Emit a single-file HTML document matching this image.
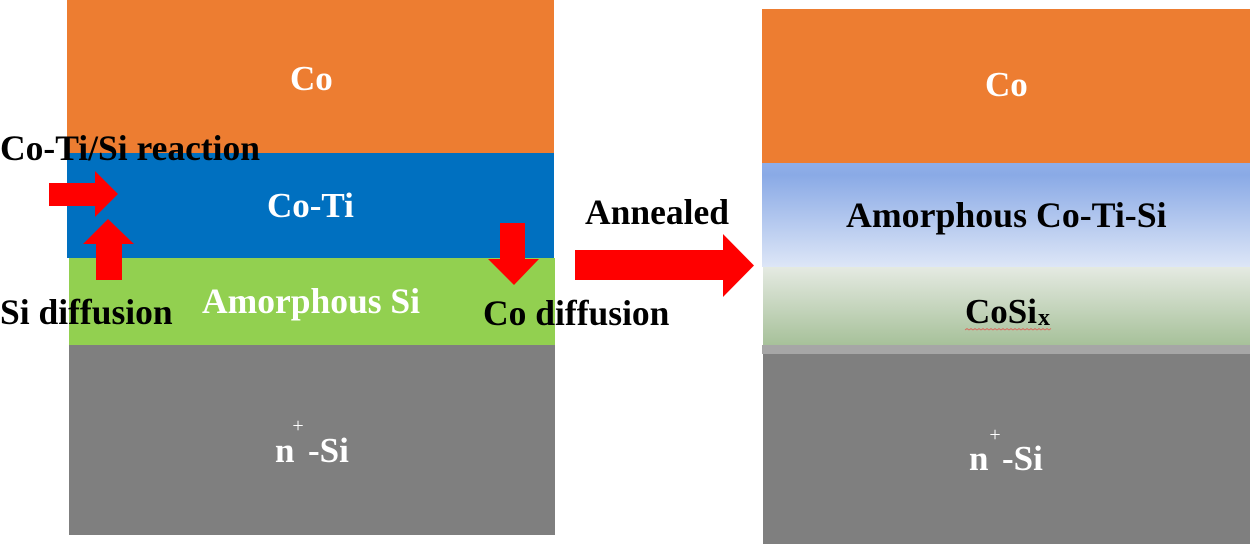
<!DOCTYPE html>
<html>
<head>
<meta charset="utf-8">
<style>
  html,body{margin:0;padding:0;background:#fff;}
  svg{display:block;}
  text{font-family:"Liberation Serif","Times New Roman",serif;font-weight:bold;}
</style>
</head>
<body>
<svg width="1251" height="545" viewBox="0 0 1251 545" xmlns="http://www.w3.org/2000/svg">
  <defs>
    <linearGradient id="gb" x1="0" y1="0" x2="0" y2="1">
      <stop offset="0" stop-color="#8FAEE8"/>
      <stop offset="0.12" stop-color="#8AAAE6"/>
      <stop offset="1" stop-color="#DDE6F7"/>
    </linearGradient>
    <linearGradient id="gg" x1="0" y1="0" x2="0" y2="1">
      <stop offset="0" stop-color="#E5EAE2"/>
      <stop offset="1" stop-color="#A7C19A"/>
    </linearGradient>
  </defs>

  <!-- Left stack -->
  <rect x="67" y="0" width="487" height="153" fill="#ED7D31"/>
  <rect x="67" y="153" width="487" height="105" fill="#0070C0"/>
  <rect x="69" y="258" width="486" height="87" fill="#92D050"/>
  <rect x="69" y="345" width="486" height="190" fill="#7F7F7F"/>

  <!-- Right stack -->
  <rect x="762" y="9" width="488" height="154" fill="#ED7D31"/>
  <rect x="762" y="163" width="488" height="104" fill="url(#gb)"/>
  <rect x="763" y="267" width="487" height="78" fill="url(#gg)"/>
  <rect x="762" y="345" width="488" height="9" fill="#A6A6A6"/>
  <rect x="763" y="354" width="487" height="190" fill="#7F7F7F"/>

  <!-- Arrows -->
  <polygon fill="#FF0000" points="49,183 95,183 95,171 118,194 95,217 95,206 49,206"/>
  <polygon fill="#FF0000" points="96,280 96,244 83,244 108,219 134,244 122,244 122,280"/>
  <polygon fill="#FF0000" points="500,223 525,223 525,259 539,259 514,285 488,259 500,259"/>
  <polygon fill="#FF0000" points="575,250 723,250 723,234 754,265.5 723,297 723,280 575,280"/>

  <!-- Left texts -->
  <text x="290" y="90" font-size="35" fill="#fff">Co</text>
  <text x="0" y="160" font-size="35.5" fill="#000">Co-Ti/Si reaction</text>
  <text x="267" y="217" font-size="35" fill="#fff">Co-Ti</text>
  <text x="202" y="313" font-size="35.5" fill="#fff">Amorphous Si</text>
  <text x="0" y="324" font-size="35.5" fill="#000">Si diffusion</text>
  <text x="483" y="325" font-size="35.5" fill="#000">Co diffusion</text>
  <text x="585" y="224" font-size="35.5" fill="#000">Annealed</text>
  <text x="275" y="462" font-size="35" fill="#fff">n</text>
  <text x="298" y="432" font-size="20" fill="#fff" text-anchor="middle" style="font-weight:normal">+</text>
  <text x="308" y="462" font-size="35" fill="#fff">-Si</text>

  <!-- Right texts -->
  <text x="985" y="96" font-size="35" fill="#fff">Co</text>
  <text x="846" y="227" font-size="35.8" fill="#000">Amorphous Co-Ti-Si</text>
  <text x="965" y="323" font-size="35" fill="#000">CoSi</text>
  <text x="1038" y="325" font-size="24" fill="#000">x</text>
  <path d="M965,330 l2,-1.5 l2,1.5 l2,-1.5 l2,1.5 l2,-1.5 l2,1.5 l2,-1.5 l2,1.5 l2,-1.5 l2,1.5 l2,-1.5 l2,1.5 l2,-1.5 l2,1.5 l2,-1.5 l2,1.5 l2,-1.5 l2,1.5 l2,-1.5 l2,1.5 l2,-1.5 l2,1.5 l2,-1.5 l2,1.5 l2,-1.5 l2,1.5 l2,-1.5 l2,1.5 l2,-1.5 l2,1.5 l2,-1.5 l2,1.5 l2,-1.5 l2,1.5 l2,-1.5 l2,1.5 l2,-1.5 l2,1.5 l2,-1.5 l2,1.5 l2,-1.5 l2,1.5 l2,-1.5" fill="none" stroke="#D9665A" stroke-width="0.8"/>
  <text x="969" y="470" font-size="35" fill="#fff">n</text>
  <text x="995" y="441" font-size="20" fill="#fff" text-anchor="middle" style="font-weight:normal">+</text>
  <text x="1002" y="470" font-size="35" fill="#fff">-Si</text>
</svg>
</body>
</html>
